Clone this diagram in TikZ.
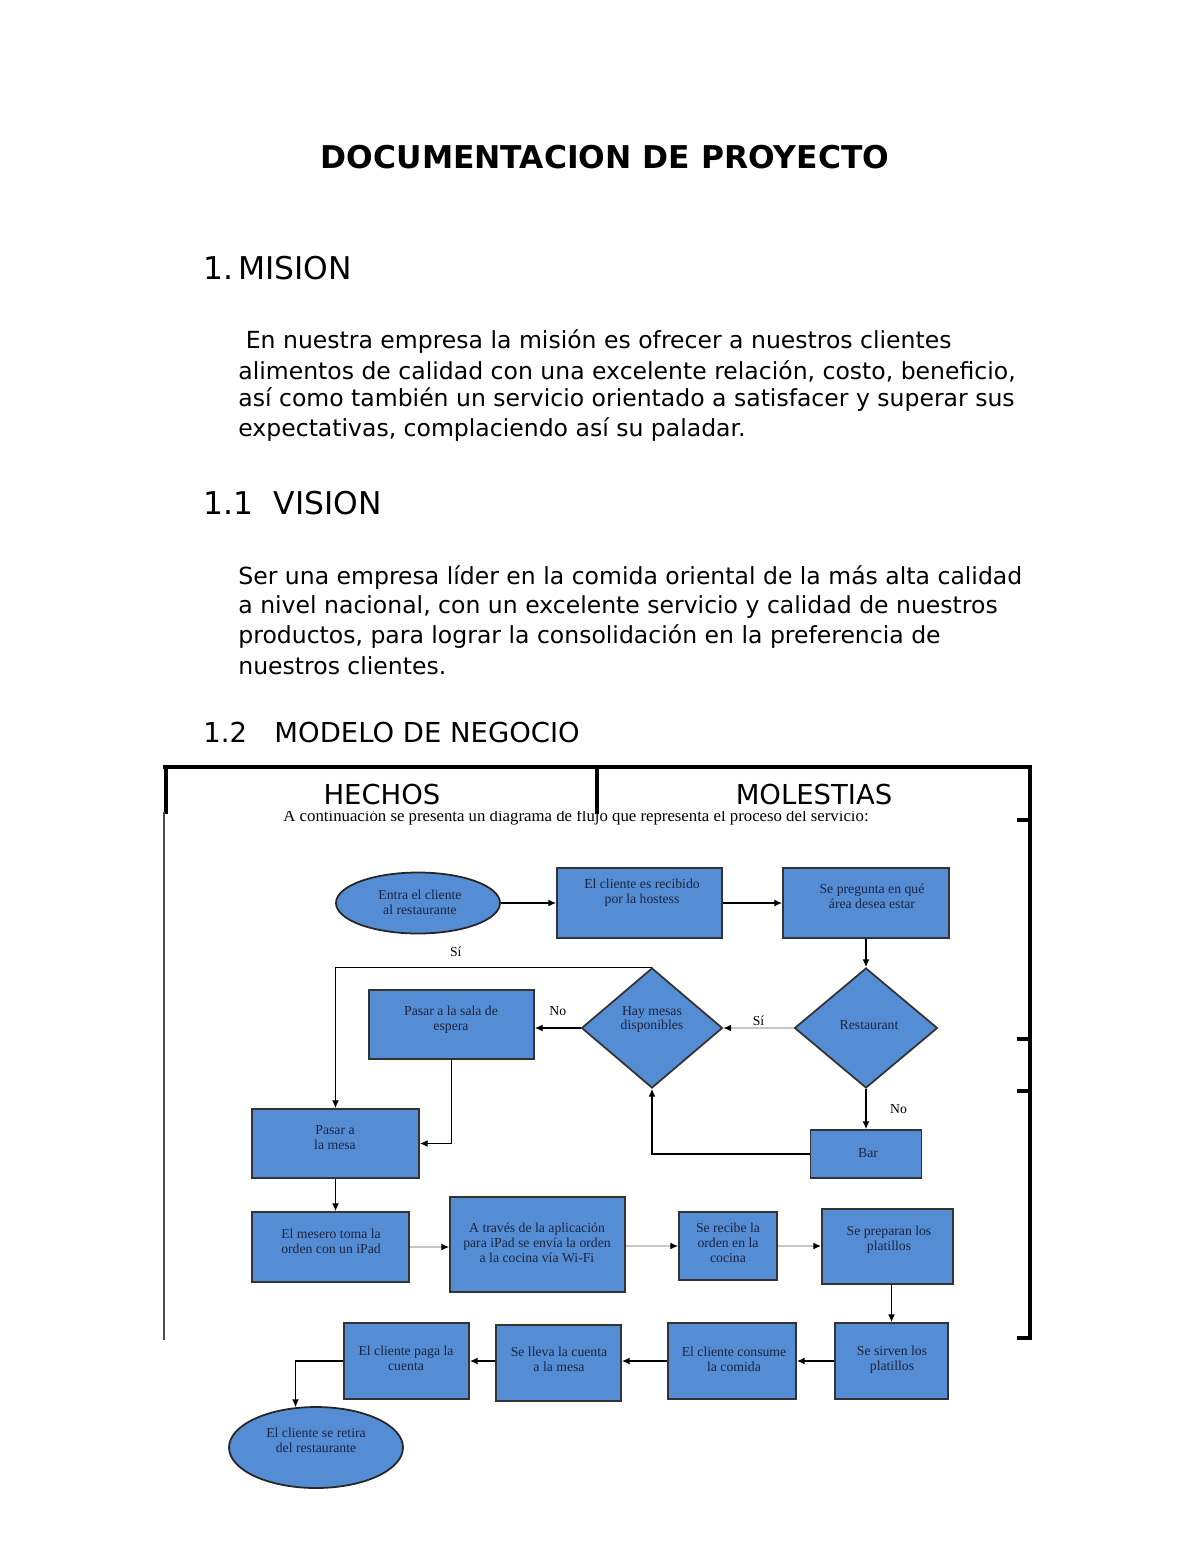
\documentclass[tikz,border=0pt]{standalone}
\usepackage{fontspec}
\setmainfont{DejaVu Sans}
\newfontfamily\chartfont{Liberation Serif}
\usetikzlibrary{shapes.geometric,arrows.meta}
\definecolor{boxblue}{RGB}{84,141,212}
\definecolor{inknavy}{RGB}{28,36,64}
\tikzset{
  body/.style = {anchor=west, inner sep=0pt, font=\fontsize{12}{15}\selectfont},
  head/.style = {anchor=west, inner sep=0pt, font=\fontsize{16}{19}\selectfont},
  proc/.style = {rectangle, draw=black!80, line width=0.9pt, fill=boxblue, inner sep=0pt},
  term/.style = {ellipse, draw=black!85, line width=0.9pt, fill=boxblue, inner sep=0pt},
  ask/.style  = {diamond, draw=black!80, line width=0.9pt, fill=boxblue, inner sep=0pt},
  txt/.style  = {inner sep=0pt, align=center, text=inknavy,
                 font=\chartfont\fontsize{7}{7.6}\selectfont},
  lbl/.style  = {inner sep=0pt, font=\chartfont\fontsize{7}{8}\selectfont},
  arr/.style  = {-{Latex[length=4pt,width=3.5pt]}, line width=0.6pt},
  faint/.style = {draw=black!22, line width=0.6pt, -{Latex[length=4pt,width=3.5pt,color=black]}},
  frame/.style = {line width=2pt, line cap=rect}
}

\begin{document}
\begin{tikzpicture}[x=0.51pt, y=-0.51pt]
	\def \u{0.51pt}
	\useasboundingbox (0,0) rectangle (1200,1553);
	\fill[white] (0,0) rectangle (1200,1553);

	% Title and text
	\node[inner sep=0pt, font=\fontsize{16}{19}\selectfont\bfseries] (title) at (605,157) {DOCUMENTACION DE PROYECTO};
	\node[head] (mision) at (203,268) {1.\hspace{2.5pt}MISION};
	\node[body] (m1) at (238,342) {\ En nuestra empresa la misión es ofrecer a nuestros clientes};
	\node[body] (m2) at (238,371) {alimentos de calidad con una excelente relación, costo, beneficio,};
	\node[body] (m3) at (238,400) {así como también un servicio orientado a satisfacer y superar sus};
	\node[body] (m4) at (238,430) {expectativas, complaciendo así su paladar.};
	\node[head] (vision) at (203,503) {1.1\hspace{10.5pt}VISION};
	\node[body] (v1) at (238,578) {Ser una empresa líder en la comida oriental de la más alta calidad};
	\node[body] (v2) at (238,607) {a nivel nacional, con un excelente servicio y calidad de nuestros};
	\node[body] (v3) at (238,637) {productos, para lograr la consolidación en la preferencia de};
	\node[body] (v4) at (238,666) {nuestros clientes.};
	\node[head, font=\fontsize{14}{17}\selectfont] (modelo) at (203,732) {1.2\hspace{14pt}MODELO DE NEGOCIO};

	% Caption (cut by the table head)
	\begin{scope}
		\clip (170,811) rectangle (1020,830);
		\node[lbl, font=\chartfont\fontsize{8.55}{9}\selectfont] (caption) at (576,817) {A continuación se presenta un diagrama de flujo que representa el proceso del servicio:};
	\end{scope}

	% Table frame
	\draw[frame] (165,767) -- (1030,767);
	\draw[frame] (166,767) -- (166,812);
	\draw[frame] (597,767) -- (597,812);
	\draw[frame] (1030,767) -- (1030,1338);
	\draw[frame] (1019,820) -- (1030,820);
	\draw[frame] (1019,1039) -- (1030,1039);
	\draw[frame] (1019,1091) -- (1030,1091);
	\draw[frame] (1019,1338) -- (1030,1338);
	\draw[black!70, line width=0.8pt] (164,812) -- (164,1340);
	\node[inner sep=0pt, font=\fontsize{14}{17}\selectfont] (hechos) at (382,794) {HECHOS};
	\node[inner sep=0pt, font=\fontsize{14}{17}\selectfont] (molestias) at (814,794) {MOLESTIAS};

	% Shapes
	\node[term, minimum width=164*\u, minimum height=61*\u] (entra) at (418,903) {};
	\node[proc, minimum width=165*\u, minimum height=70*\u] (hostess) at (639.5,903) {};
	\node[proc, minimum width=166*\u, minimum height=70*\u] (pregunta) at (866,903) {};
	\node[ask, minimum width=143*\u, minimum height=120*\u] (restaurant) at (866,1028) {};
	\node[ask, minimum width=141*\u, minimum height=120*\u] (hay) at (652,1028) {};
	\node[proc, minimum width=165*\u, minimum height=69*\u] (espera) at (451.5,1024.5) {};
	\node[proc, minimum width=167*\u, minimum height=69*\u] (mesa) at (335.5,1143.5) {};
	\node[proc, minimum width=111*\u, minimum height=48*\u] (bar) at (866,1154) {};
	\node[proc, minimum width=157*\u, minimum height=70*\u] (mesero) at (330.5,1247) {};
	\node[proc, minimum width=175*\u, minimum height=95*\u] (traves) at (537.5,1244.5) {};
	\node[proc, minimum width=98*\u, minimum height=68*\u] (recibe) at (728,1246) {};
	\node[proc, minimum width=131*\u, minimum height=75*\u] (preparan) at (887.5,1246.5) {};
	\node[proc, minimum width=113*\u, minimum height=76*\u] (sirven) at (891.5,1361) {};
	\node[proc, minimum width=128*\u, minimum height=76*\u] (consume) at (732,1361) {};
	\node[proc, minimum width=125*\u, minimum height=76*\u] (lleva) at (558.5,1363) {};
	\node[proc, minimum width=125*\u, minimum height=76*\u] (paga) at (406.5,1361) {};
	\node[term, minimum width=174*\u, minimum height=81*\u] (retira) at (316,1447.5) {};

	% Texts
	\node[txt] (entra-t) at (420,902.5) {Entra el cliente\\al restaurante};
	\node[txt] (hostess-t) at (642,893) {El cliente es recibido\\por la hostess};
	\node[txt] (pregunta-t) at (872,896) {Se pregunta en qué\\área desea estar};
	\node[txt] (restaurant-t) at (869,1025) {Restaurant};
	\node[txt] (hay-t) at (652,1019.5) {Hay mesas\\disponibles};
	\node[txt] (espera-t) at (451,1019.5) {Pasar a la sala de\\espera};
	\node[txt] (mesa-t) at (335,1137.5) {Pasar a\\la mesa};
	\node[txt] (bar-t) at (868,1153) {Bar};
	\node[txt] (mesero-t) at (331,1241.5) {El mesero toma la\\orden con un iPad};
	\node[txt] (traves-t) at (537,1243) {A través de la aplicación\\para iPad se envía la orden\\a la cocina vía Wi-Fi};
	\node[txt] (recibe-t) at (728,1242.5) {Se recibe la\\orden en la\\cocina};
	\node[txt] (preparan-t) at (889,1239.5) {Se preparan los\\platillos};
	\node[txt] (sirven-t) at (892,1359.5) {Se sirven los\\platillos};
	\node[txt] (consume-t) at (734,1359.5) {El cliente consume\\la comida};
	\node[txt] (lleva-t) at (559,1359.5) {Se lleva la cuenta\\a la mesa};
	\node[txt] (paga-t) at (406,1358.5) {El cliente paga la\\cuenta};
	\node[txt] (retira-t) at (316,1440) {El cliente se retira\\del restaurante};

	% Arrows
	\draw[arr] (entra) -- (hostess);
	\draw[arr] (hostess) -- (pregunta);
	\draw[arr] (pregunta) -- (restaurant);
	\draw[faint] (restaurant.west) -- node[lbl, above=1pt] (si1) {Sí} (hay.east);
	\draw[arr] (hay.west) -- node[lbl, above=6pt] (no1) {No} (espera.east |- hay.west);
	\draw[arr] (hay.north) -- node[lbl, above=5pt, pos=0.62] (si2) {Sí} (hay.north -| mesa.north) -- (mesa.north);
	\draw[arr] (espera.south) |- (mesa.east);
	\draw[arr] (restaurant.south) -- node[lbl, right=12pt, pos=0.5] (no2) {No} (bar.north);
	\draw[arr] (bar.west) -| (hay.south);
	\draw[arr] (mesa.south) -- (mesa.south |- mesero.north);
	\draw[faint] (mesero.east) -- (traves.west |- mesero.east);
	\draw[faint] (traves.east |- recibe.west) -- (recibe.west);
	\draw[faint] (recibe.east) -- (preparan.west |- recibe.east);
	\draw[arr] (sirven.north |- preparan.south) -- (sirven.north);
	\draw[arr] (sirven) -- (consume);
	\draw[arr] (consume.west) -- (lleva.east |- consume.west);
	\draw[arr] (lleva.west |- paga.east) -- (paga.east);
	\draw[arr] (paga.west) -| (retira.117);

\end{tikzpicture}
\end{document}
